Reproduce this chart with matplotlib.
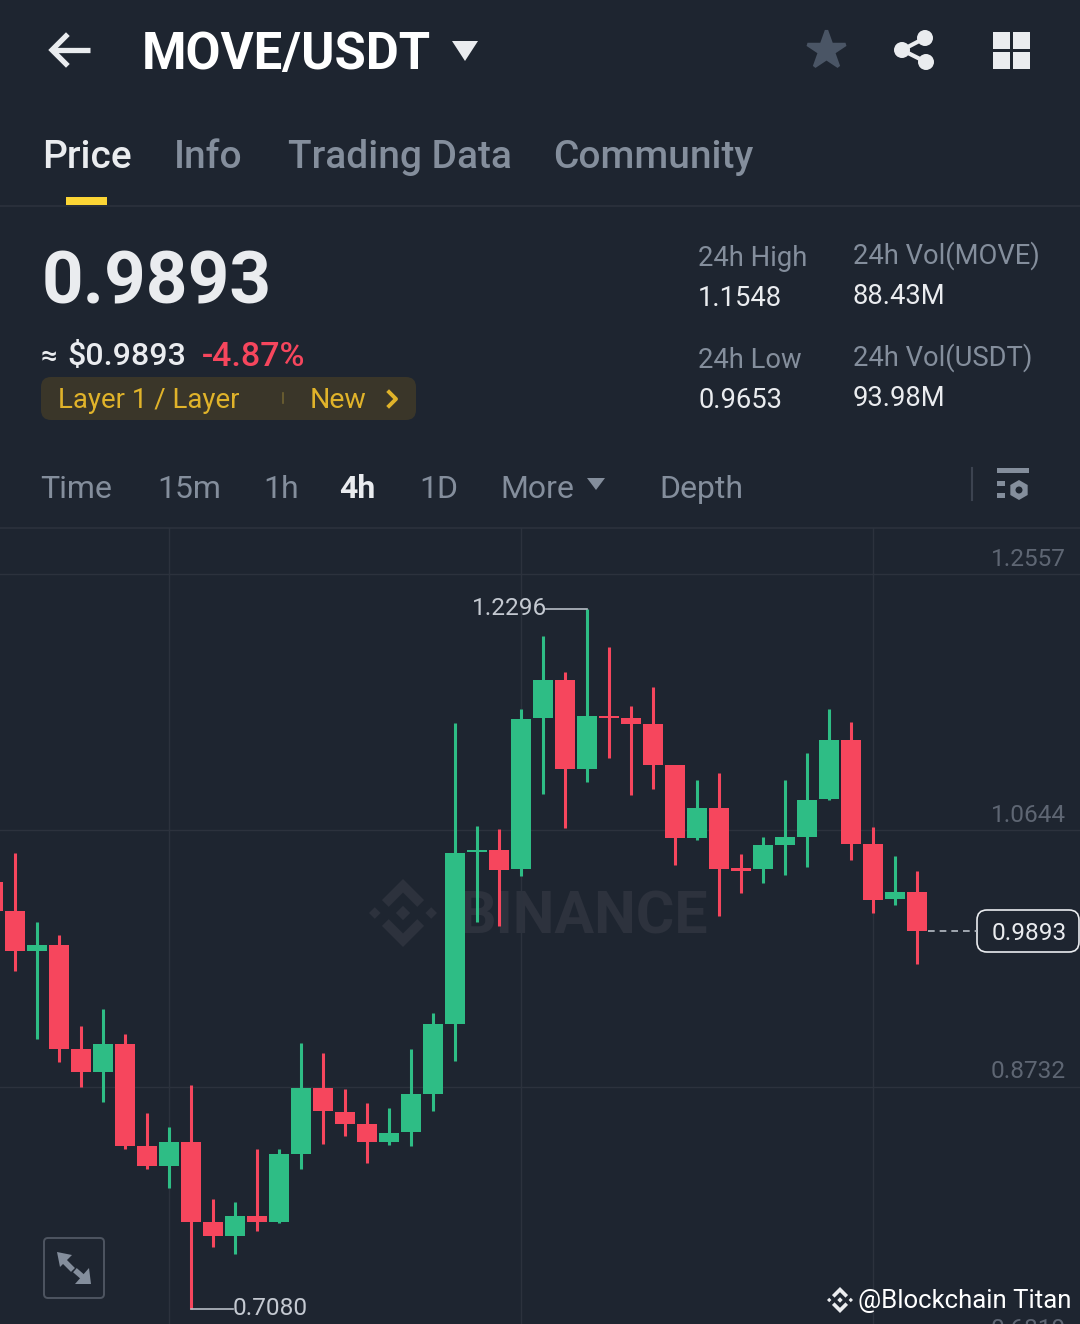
import matplotlib
matplotlib.use('Agg')
import matplotlib.pyplot as plt
from matplotlib.patches import FancyBboxPatch, Polygon, Circle, Rectangle, RegularPolygon

plt.rcParams['font.family'] = ['Roboto', 'DejaVu Sans']

BG = '#1e2530'
GRID = '#2c323d'
WHITE = '#eaecef'
GREY = '#848e9c'
AXIS_GREY = '#5e6673'
UP = '#2ebd85'
DOWN = '#f6465d'
GOLD = '#e0b32a'

# 4h candles, oldest first
opens = [1.0260, 1.0044, 0.9746, 0.9790, 0.9015, 0.8844, 0.9053, 0.8292, 0.8143, 0.8322, 0.7726,
         0.7621, 0.7770, 0.7726, 0.8233, 0.8725, 0.8546, 0.8456, 0.8322, 0.8397, 0.8680, 0.9202,
         1.0484, 1.0499, 1.0357, 1.1479, 1.1766, 1.1102, 1.1501, 1.1483, 1.1438, 1.1132, 1.0588,
         1.0812, 1.0365, 1.0357, 1.0536, 1.0596, 1.0879, 1.1319, 1.0543, 1.0133, 1.0186]
highs = [1.0260, 1.0476, 0.9962, 0.9865, 0.9187, 0.9313, 0.9127, 0.8538, 0.8434, 0.8747, 0.7897,
         0.7875, 0.8270, 0.8270, 0.9060, 0.8985, 0.8717, 0.8613, 0.8572, 0.9015, 0.9284, 1.1445,
         1.0678, 1.0655, 1.1550, 1.2094, 1.1825, 1.2296, 1.2012, 1.1572, 1.1714, 1.1132, 1.1020,
         1.1073, 1.0469, 1.0596, 1.1020, 1.1222, 1.1550, 1.1453, 1.0670, 1.0454, 1.0342]
lows = [1.0044, 0.9597, 0.9090, 0.8918, 0.8732, 0.8620, 0.8270, 0.8121, 0.7979, 0.7080, 0.7539,
        0.7487, 0.7659, 0.7718, 0.8121, 0.8307, 0.8367, 0.8165, 0.8300, 0.8292, 0.8553, 0.8926,
        0.9962, 0.9932, 1.0305, 1.0916, 1.0659, 1.1005, 1.1184, 1.0905, 1.0953, 1.0387, 1.0573,
        1.0007, 1.0178, 1.0253, 1.0312, 1.0372, 1.0871, 1.0424, 1.0029, 1.0089, 0.9649]
closes = [1.0044, 0.9746, 0.9790, 0.9015, 0.8844, 0.9053, 0.8292, 0.8143, 0.8322, 0.7726, 0.7621,
          0.7770, 0.7726, 0.8233, 0.8725, 0.8553, 0.8456, 0.8322, 0.8389, 0.8680, 0.9202, 1.0476,
          1.0499, 1.0350, 1.1475, 1.1766, 1.1102, 1.1497, 1.1483, 1.1438, 1.1132, 1.0588, 1.0812,
          1.0357, 1.0342, 1.0536, 1.0596, 1.0871, 1.1319, 1.0543, 1.0126, 1.0186, 0.9893]

price_ticks = [1.2557, 1.0644, 0.8732]
price_labels = ['1.2557', '1.0644', '0.8732']
time_ticks = [8, 24, 40]
last_price = '0.9893'

tabs = ['Price', 'Info', 'Trading Data', 'Community']
intervals = ['Time', '15m', '1h', '4h', '1D', 'More', 'Depth']

fig = plt.figure(figsize=(10.8, 13.24), dpi=100, facecolor=BG)


def pixel_axes(z):
    a = fig.add_axes([0, 0, 1, 1], zorder=z)
    a.set_xlim(0, 1080)
    a.set_ylim(1324, 0)
    a.axis('off')
    a.patch.set_alpha(0)
    return a


# watermark goes under the candles, ui over them
under = pixel_axes(0)
ui = pixel_axes(2)

# chart part, index on x and price on y
ax = fig.add_axes([0, 0, 1, (1324 - 528) / 1324], zorder=1)
ax.patch.set_alpha(0)
ax.set_xticks(time_ticks)
ax.set_yticks(price_ticks)
ax.tick_params(length=0, labelbottom=False, labelleft=False)
ax.grid(True, color=GRID, lw=1.0, zorder=0)
for s in ax.spines.values():
    s.set_visible(False)

for i in range(len(opens)):
    col = UP if closes[i] >= opens[i] else DOWN
    ax.vlines(i, lows[i], highs[i], color=col, lw=2.2, zorder=3)
    bottom = min(opens[i], closes[i])
    ax.bar(i, abs(closes[i] - opens[i]), 0.89, bottom=bottom, color=col, zorder=3)

# highest / lowest leader lines
hi = highs.index(max(highs))
lo = lows.index(min(lows))
ax.plot([hi - 1.85, hi], [highs[hi], highs[hi]], color='#b7bdc6', lw=1.2, zorder=4)
ax.plot([lo, lo + 1.9], [lows[lo], lows[lo]], color='#b7bdc6', lw=1.2, zorder=4)
ax.text(hi - 1.8, highs[hi], '%.4f' % highs[hi], color='#c4c9d1', fontsize=17.6, ha='right', va='center', zorder=4)
ax.text(lo + 1.9, lows[lo], '%.4f' % lows[lo], color='#c4c9d1', fontsize=17.6, ha='left', va='center', zorder=4)

ax.set_xlim(7 / 22, 1087 / 22)
ax.set_ylim(0.69653, 1.28989)


def label(x, y, s, size, col=WHITE, weight='normal', ha='left', target=ui):
    target.text(x, y, s, fontsize=size, color=col, fontweight=weight, ha=ha, va='center')


def logo(target, cx, cy, r, col):
    # binance mark, r is half the width
    for px, d in [(0, r * 0.21), (-r * 0.83, r * 0.17), (r * 0.83, r * 0.17)]:
        target.add_patch(Polygon([(cx + px - d, cy), (cx + px, cy - d), (cx + px + d, cy), (cx + px, cy + d)], color=col, lw=0))
    for sgn in (-1, 1):
        target.add_patch(Polygon([(cx - r * 0.62, cy + sgn * r * 0.38), (cx, cy + sgn * r), (cx + r * 0.62, cy + sgn * r * 0.38),
                                  (cx + r * 0.42, cy + sgn * r * 0.18), (cx, cy + sgn * r * 0.6), (cx - r * 0.42, cy + sgn * r * 0.18)],
                                 color=col, lw=0))


# header
ui.plot([52, 90], [50, 50], color=WHITE, lw=3.8, solid_capstyle='butt')
ui.plot([66, 52, 66], [36, 50, 64], color=WHITE, lw=3.8, solid_joinstyle='miter')
label(142, 54.5, 'MOVE/USDT', 36.5, '#ffffff', 'bold')
ui.add_patch(Polygon([(452, 41), (478, 41), (465, 61)], closed=True, color=WHITE, lw=0))
ui.plot([826], [50], marker='*', ms=29, color='#4a5565', mec='#4a5565', mew=2.5, mfc='#4a5565', ls='none')
ui.plot([925, 902, 926], [38, 50, 62], color=WHITE, lw=3)
for cx, cy in [(925, 38), (902, 50), (926, 62)]:
    ui.add_patch(Circle((cx, cy), 8, color=WHITE, lw=0))
for x0 in (993, 1013):
    for y0 in (32, 52):
        ui.add_patch(Rectangle((x0, y0), 17, 16.5, color=WHITE, lw=0))

# tabs
for x, s in zip([42, 174, 288, 553], tabs):
    label(x, 158, s, 28, WHITE if s == 'Price' else GREY, 'medium')
ui.add_patch(Rectangle((66, 197), 41, 8, color='#fcd535', lw=0, zorder=3))
ui.plot([0, 1080], [205.5, 205.5], color=GRID, lw=1.2)

# price block
label(42, 284, last_price, 52.5, WHITE, 'bold')
label(41, 357, '≈', 21, WHITE, 'medium')
label(67, 357, '$' + last_price, 23.2, WHITE, 'medium')
label(202, 357, '-4.87%', 24.5, DOWN, 'medium')
ui.add_patch(FancyBboxPatch((49, 385), 359, 27, boxstyle='round,pad=8,rounding_size=10', fc='#3a3629', ec='none'))
label(58, 401, 'Layer 1 / Layer', 19.9, GOLD)
ui.plot([283, 283], [393, 403], color='#6f6231', lw=1.2)
label(310, 401, 'New', 20.5, GOLD)
ui.plot([389, 396, 389], [392, 399, 406], color=GOLD, lw=2.8)

for x, y, s, c in [(698, 258, '24h High', GREY), (698, 298, '1.1548', WHITE), (698, 360, '24h Low', GREY), (698, 400, '0.9653', WHITE),
                   (853, 256, '24h Vol(MOVE)', GREY), (853, 296, '88.43M', WHITE), (853, 358, '24h Vol(USDT)', GREY), (853, 398, '93.98M', WHITE)]:
    label(x, y, s, 19.7, c)

# interval row
for x, s in zip([40, 157, 263, 339, 419, 500, 659], intervals):
    if s == '4h':
        label(x, 489, s, 23, WHITE, 'bold')
    else:
        label(x, 489, s, 23, GREY)
ui.add_patch(Polygon([(587, 478), (605, 478), (596, 490)], color=GREY, lw=0))
ui.plot([972, 972], [468, 500], color='#3c4350', lw=1.5)
ui.add_patch(Rectangle((997, 468), 32, 5, color=GREY, lw=0))
ui.add_patch(Rectangle((997, 481), 8, 5, color=GREY, lw=0))
ui.add_patch(Rectangle((997, 493), 8, 5, color=GREY, lw=0))
ui.add_patch(RegularPolygon((1019, 490), 6, radius=10, color=GREY, lw=0))
ui.add_patch(Circle((1019, 490), 3.5, color=BG, lw=0))
ui.plot([0, 1080], [527.5, 527.5], color=GRID, lw=1.2)

# axis labels
for y, s in zip([559, 816, 1072], price_labels):
    label(1066, y, s, 17.6, AXIS_GREY, ha='right')
label(1066, 1329, '0.6819', 17.6, AXIS_GREY, ha='right')

# last price tag
ui.plot([928, 977], [931, 931], color='#b7bdc6', lw=1.2, ls=(0, (4, 3)))
ui.add_patch(FancyBboxPatch((985, 918), 86, 26, boxstyle='round,pad=8,rounding_size=10', fc=BG, ec=WHITE, lw=1.2))
label(1029, 934, last_price, 17.6, WHITE, ha='center')

# watermark
logo(under, 403, 913, 34, '#2d323d')
label(458, 917, 'BINANCE', 42.5, '#2d323d', 'bold', target=under)

# expand button
ui.add_patch(FancyBboxPatch((48, 1242), 52, 52, boxstyle='round,pad=4,rounding_size=4', fc='none', ec='#4e5561', lw=1.4))
ui.plot([63, 71], [1260, 1268], color=GREY, lw=4)
ui.plot([77, 85], [1272, 1279], color=GREY, lw=4)
ui.add_patch(Polygon([(57, 1252), (72, 1255), (60, 1267)], color=GREY, lw=0))
ui.add_patch(Polygon([(91, 1284), (75, 1284), (89, 1268)], color=GREY, lw=0))

# author tag
logo(ui, 840, 1300, 13, WHITE)
label(858, 1301, '@Blockchain Titan', 18.5, '#ffffff')

fig.savefig('out.png', dpi=100, facecolor=BG)
